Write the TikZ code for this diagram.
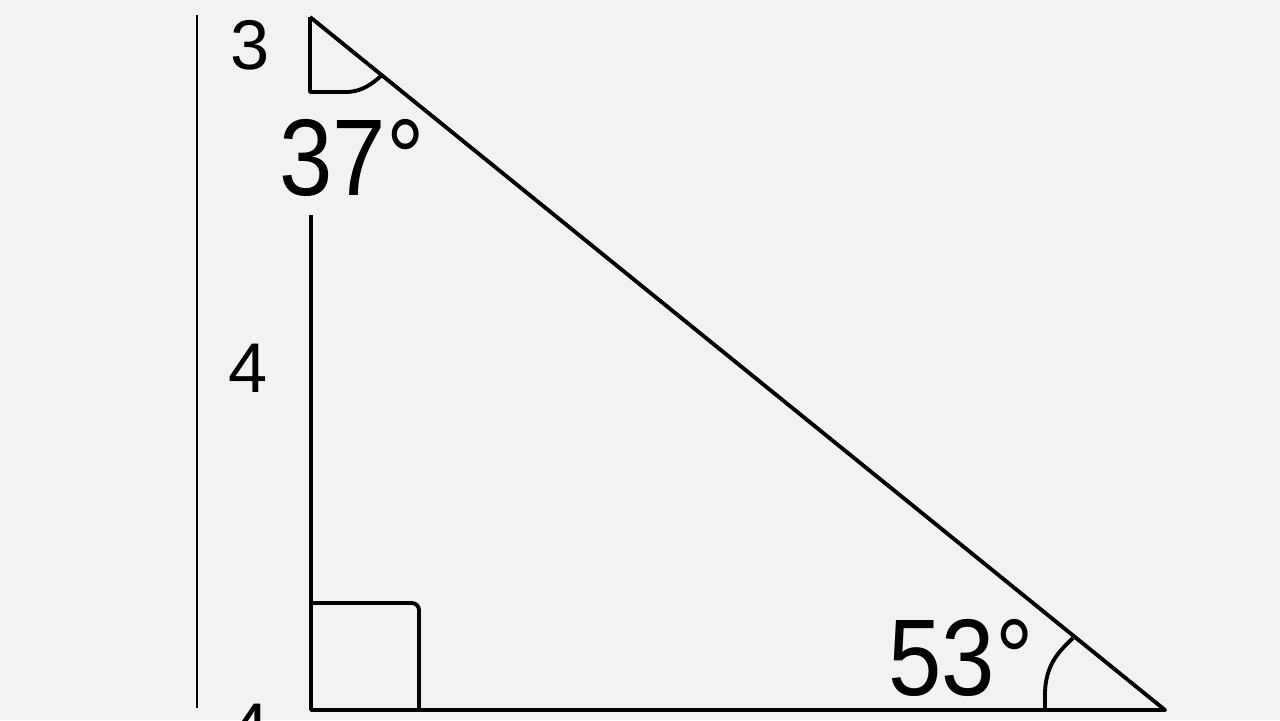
\documentclass[tikz,border=0pt]{standalone}
\usepackage{fontspec}
\setmainfont{Liberation Sans}
\newfontfamily\anglefont[FakeStretch=0.88]{Liberation Sans}
\tikzset{
  side/.style={font=\fontsize{20}{24}\selectfont},
  angle label/.style={font=\anglefont\fontsize{31}{36}\selectfont},
  edge/.style={line width=1.1pt, line join=round},
}
\begin{document}
\begin{tikzpicture} [x=0.01cm, y=-0.01cm]
	\fill [black!5] (0,0) rectangle (1280,720);
	\clip (0,0) rectangle (1280,720);
	\coordinate (A) at (310,17);
	\coordinate (C) at (311,710);
	\coordinate (B) at (1165,710);
	% scale bar on the left
	\draw [line width=0.7pt] (197,15) -- (197,708);
	% triangle
	\draw [edge] (A) -- (B) -- (C) -- (311,215);
	\draw [edge, rounded corners=2pt] (311,603) -- (419,603) -- (419,710);
	% angle marks
	\draw [edge] (A) -- (310,92) -- (345,92) .. controls (362,92) and (372,84) .. (382,75);
	\draw [edge] (1045,710) -- (1045,692) .. controls (1046,665) and (1058,652) .. (1073,638);
	\node [side] (l3) at (250,45) {3};
	\node [side] (l4) at (248,368) {4};
	\node [side] (l4b) at (250,728) {4};
	\node [angle label] (a37) at (352,158) {37°};
	\node [angle label] (a53) at (961,658) {53°};
\end{tikzpicture}
\end{document}
